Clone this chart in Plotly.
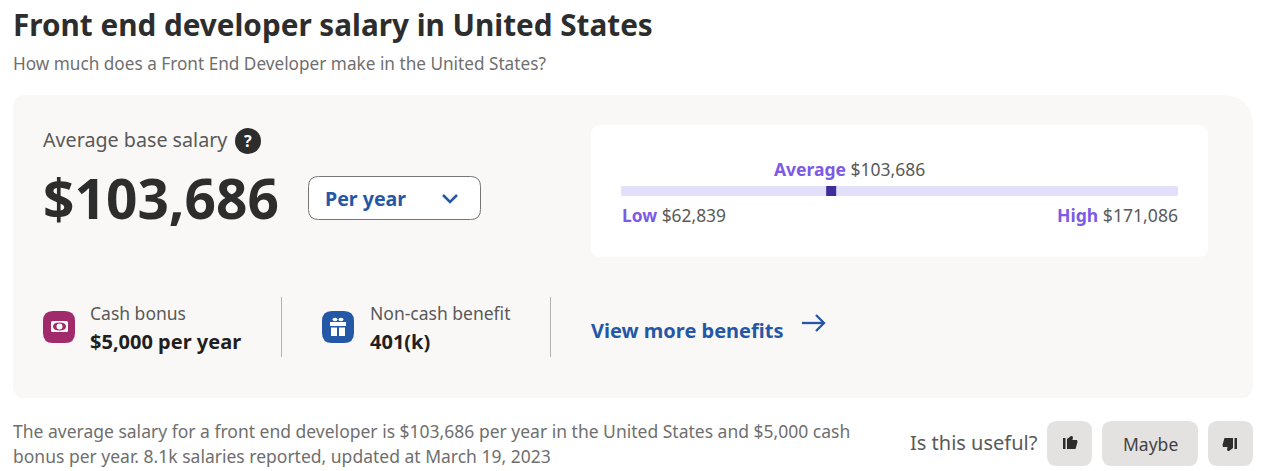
import plotly.graph_objects as go

W = 1262
H = 471
FONT = "Noto Sans"

# salary range
LOW = 62839
HIGH = 171086
AVERAGE = 103686

DARK = "#2d2d2d"
GREY = "#6f6f6f"
BLUE = "#2557a7"
PURPLE = "#7b5be6"
CARD = "#faf8f6"

TITLE = "Front end developer salary in United States"
SUBTITLE = "How much does a Front End Developer make in the United States?"
FOOTER = ["The average salary for a front end developer is $103,686 per year in the United States and $5,000 cash",
          "bonus per year. 8.1k salaries reported, updated at March 19, 2023"]


def px(x):
    return x / W


def py(y):
    return 1 - y / H


def rounded(x0, y0, x1, y1, r, tr=None):
    # rounded rectangle as an svg path in paper coordinates, tr overrides the top right corner
    tr = r if tr is None else tr
    pts = [
        f"M{px(x0 + r)},{py(y0)}", f"L{px(x1 - tr)},{py(y0)}", f"Q{px(x1)},{py(y0)} {px(x1)},{py(y0 + tr)}",
        f"L{px(x1)},{py(y1 - r)}", f"Q{px(x1)},{py(y1)} {px(x1 - r)},{py(y1)}",
        f"L{px(x0 + r)},{py(y1)}", f"Q{px(x0)},{py(y1)} {px(x0)},{py(y1 - r)}",
        f"L{px(x0)},{py(y0 + r)}", f"Q{px(x0)},{py(y0)} {px(x0 + r)},{py(y0)}", "Z",
    ]
    return "".join(pts)


def oval(cx, cy, rx, ry):
    # closed ellipse made of two quadratic-ish arcs, good enough for small icons
    return (f"M{px(cx - rx)},{py(cy)}Q{px(cx - rx)},{py(cy - ry)} {px(cx)},{py(cy - ry)}"
            f"Q{px(cx + rx)},{py(cy - ry)} {px(cx + rx)},{py(cy)}"
            f"Q{px(cx + rx)},{py(cy + ry)} {px(cx)},{py(cy + ry)}"
            f"Q{px(cx - rx)},{py(cy + ry)} {px(cx - rx)},{py(cy)}Z")


def poly(points, close=True):
    d = "M" + "L".join(f"{px(x)},{py(y)}" for x, y in points)
    return d + ("Z" if close else "")


def fill(path, color, line=None, width=1):
    return dict(type="path", xref="paper", yref="paper", path=path, fillcolor=color,
                line=dict(color=line or color, width=width if line else 0), layer="below")


def stroke(points, color, width):
    return dict(type="path", xref="paper", yref="paper", path=poly(points, close=False),
                line=dict(color=color, width=width), layer="below")


def label(x, y, text, size, color=DARK, anchor="left", weight=None):
    return dict(x=px(x), y=py(y), xref="paper", yref="paper", text=text, showarrow=False,
                xanchor=anchor, yanchor="middle", borderpad=0, borderwidth=0,
                font=dict(family=FONT, size=size, color=color, weight=weight))


shapes = [
    fill(rounded(13, 95, 1253, 398, 12, tr=32), CARD),
    fill(rounded(591, 125, 1208, 257, 10), "#ffffff"),
    fill(rounded(308.5, 176.5, 480.5, 219.5, 10), "#ffffff", line="#767676"),
    stroke([(443, 195), (450, 202), (457, 195)], BLUE, 2.5),
    dict(type="circle", xref="paper", yref="paper", x0=px(235), x1=px(261), y0=py(128), y1=py(154),
         fillcolor=DARK, line=dict(width=0), layer="below"),
    # cash bonus icon
    fill(rounded(43, 311, 75, 343, 10), "#a02a6c"),
    fill(rounded(51, 321, 68, 332, 1.5) + oval(59.5, 326.5, 6.5, 4), "#ffffff"),
    fill(oval(59.5, 326.5, 3, 3), "#ffffff"),
    # non-cash icon
    fill(rounded(322, 311, 354, 343, 10), BLUE),
    fill(poly([(330, 322), (346, 322), (346, 326), (330, 326)]), "#ffffff"),
    fill(poly([(331, 327.5), (337, 327.5), (337, 336), (331, 336)]), "#ffffff"),
    fill(poly([(339, 327.5), (345, 327.5), (345, 336), (339, 336)]), "#ffffff"),
    fill(oval(335, 319.5, 2.5, 1.8), "#ffffff"),
    fill(oval(341, 319.5, 2.5, 1.8), "#ffffff"),
    # dividers
    stroke([(281.5, 297), (281.5, 357)], "#b5b3b0", 1),
    stroke([(550.5, 297), (550.5, 357)], "#b5b3b0", 1),
    # arrow
    stroke([(802, 323), (824, 323)], BLUE, 2.3),
    stroke([(816, 315), (824, 323), (816, 331)], BLUE, 2.3),
    # feedback buttons
    fill(rounded(1047, 421, 1092, 466, 10), "#e4e2e0"),
    fill(rounded(1102, 421, 1198, 466, 10), "#e4e2e0"),
    fill(rounded(1208, 421, 1253, 466, 10), "#e4e2e0"),
    # thumb up
    fill(poly([(1063, 438), (1065.5, 438), (1065.5, 449), (1063, 449)]), DARK),
    fill(poly([(1067, 449), (1067, 439), (1071, 436), (1072, 436), (1073, 437), (1072.5, 440),
               (1077, 440), (1077.5, 442), (1075.5, 449)]), DARK),
    # thumb down
    fill(poly([(1234.5, 438), (1237, 438), (1237, 449), (1234.5, 449)]), DARK),
    fill(poly([(1233, 438), (1233, 448), (1229, 451), (1228, 451), (1227, 450), (1227.5, 447),
               (1223, 447), (1222.5, 445), (1224.5, 438)]), DARK),
]

annotations = [
    label(13, 24.5, TITLE, 29.7, anchor="left", weight=700),
    label(13, 63.5, SUBTITLE, 17.2, GREY),
    label(43, 140, "Average base salary", 19.7, "#595959"),
    label(248, 141, "?", 16, "#ffffff", anchor="center", weight=700),
    label(43, 197.5, f"${AVERAGE:,}", 55, anchor="left", weight=700),
    label(325, 198, "Per year", 19.6, BLUE, weight=700),
    label(774, 168.5, f"<span style='color:{PURPLE}'><b>Average</b></span> ${AVERAGE:,}", 17.5, "#595959"),
    label(622, 214.5, f"<span style='color:{PURPLE}'><b>Low</b></span> ${LOW:,}", 17.4, "#595959"),
    label(1178, 214.5, f"<span style='color:{PURPLE}'><b>High</b></span> ${HIGH:,}", 17.6, "#595959", anchor="right"),
    label(90, 312.5, "Cash bonus", 17.5, "#595959"),
    label(90, 341, "$5,000 per year", 20, "#1f1f1f", weight=700),
    label(370, 312.5, "Non-cash benefit", 17.5, "#595959"),
    label(370, 341, "401(k)", 20, "#1f1f1f", weight=700),
    label(591, 330.5, "View more benefits", 20, BLUE, weight=700),
    label(13, 430.5, FOOTER[0], 17.5, GREY),
    label(13, 455.5, FOOTER[1], 17.5, GREY),
    label(910, 442.5, "Is this useful?", 20, "#595959"),
    label(1150, 443.5, "Maybe", 17.5, "#424242", anchor="center"),
]

fig = go.Figure()
fig.add_trace(go.Bar(y=[0], x=[HIGH - LOW], base=[LOW], width=[1], orientation="h",
                     marker=dict(color="#e2dffb", line=dict(width=0), cornerradius=2),
                     hoverinfo="skip", showlegend=False))
fig.add_trace(go.Scatter(x=[AVERAGE, AVERAGE], y=[-0.5, 0.5], mode="lines",
                         line=dict(color="#3f2d9c", width=10), hoverinfo="skip", showlegend=False))

fig.update_layout(
    width=W, height=H, margin=dict(l=0, r=0, t=0, b=0),
    paper_bgcolor="#ffffff", plot_bgcolor="rgba(0,0,0,0)",
    xaxis=dict(domain=[px(621), px(1178)], range=[LOW, HIGH], visible=False, fixedrange=True),
    yaxis=dict(domain=[py(196), py(186)], range=[-0.5, 0.5], visible=False, fixedrange=True),
    shapes=shapes, annotations=annotations, font=dict(family=FONT),
)

fig.write_html("out.html", config=dict(displayModeBar=False),
               post_script="document.body.style.margin='0';document.body.style.overflow='hidden';")
